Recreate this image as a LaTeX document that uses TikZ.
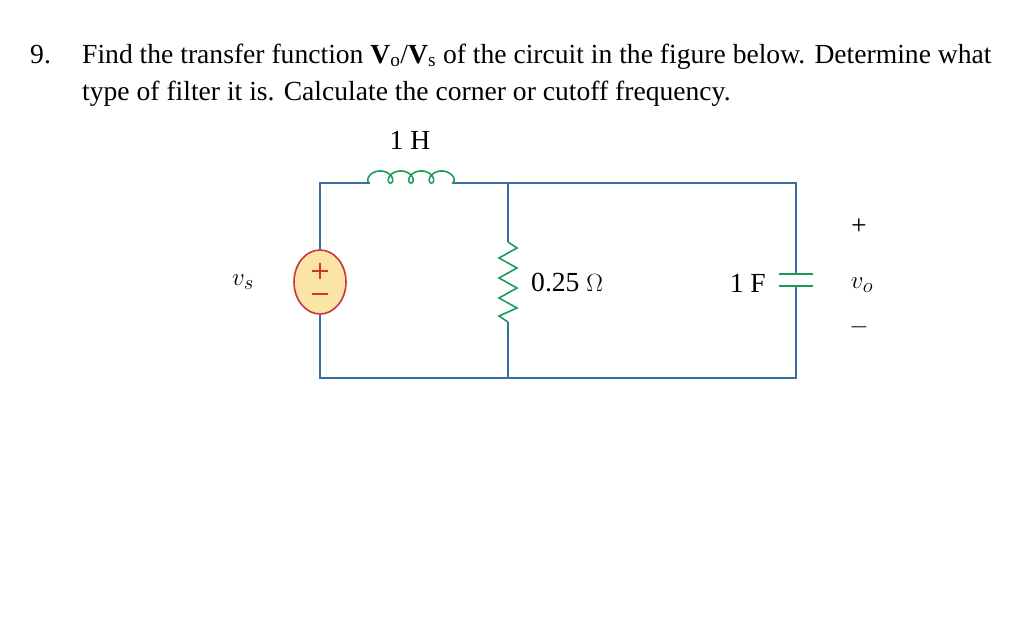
\documentclass[tikz,border=0pt]{standalone}
\usepackage{fontspec}
\setmainfont{Liberation Serif}
\usetikzlibrary{shapes.geometric}
\begin{document}
\begin{tikzpicture}[x=1pt,y=-1pt,
  wire/.style={draw=wireblue,line width=1.6pt},
  comp/.style={draw=compgreen,line width=1.6pt},
  lbl/.style={font=\fontsize{27.6}{30}\selectfont,inner sep=0pt}]
\definecolor{wireblue}{HTML}{3A6EA5}
\definecolor{compgreen}{HTML}{1E9A5A}
\definecolor{srcred}{HTML}{C8383A}
\definecolor{srcfill}{HTML}{FCE3A6}
\useasboundingbox (0,0) rectangle (1024,640);
% text
\node[lbl,anchor=base west] (n9) at (30,63) {9.};
\node[lbl,anchor=base west] (l1) at (82,63) {Find the transfer function \textbf{V}\textsubscript{o}/\textbf{V}\textsubscript{s} of the circuit in the figure below. Determine what};
\node[lbl,anchor=base west] (l2) at (82,100) {type of filter it is. Calculate the corner or cutoff frequency.};
% coordinates
\coordinate (tl) at (320,183);
\coordinate (bl) at (320,378);
\coordinate (tm) at (508,183);
\coordinate (bm) at (508,378);
\coordinate (tr) at (796,183);
\coordinate (br) at (796,378);
\coordinate (la) at (370,183);
\coordinate (lb) at (452,183);
\coordinate (ra) at (508,242);
\coordinate (rb) at (508,322);
\coordinate (ca) at (796,274);
\coordinate (cb) at (796,286);
% source
\node[draw=srcred,fill=srcfill,line width=1.6pt,ellipse,minimum width=52pt,minimum height=64pt,inner sep=0pt] (vs) at (320,282) {};
\draw[srcred,line width=1.4pt] (312,271) -- (328,271) (320,263) -- (320,279);
\draw[srcred,line width=1.4pt] (312,294) -- (328,294);
% wires
\draw[wire] (vs.north) -- (tl) -- (la);
\draw[wire] (lb) -- (tr) -- (ca);
\draw[wire] (cb) -- (br) -- (bl) -- (vs.south);
\draw[wire] (tm) -- (ra);
\draw[wire] (rb) -- (bm);
% inductor
\draw[comp,domain=pi:9*pi,samples=400,smooth] plot ({370+3.26*(\x-pi)+6.5*sin(\x r)},{183-6*(1+cos(\x r))});
% resistor
\draw[comp,line join=miter] (ra) -- (517,248) -- (499,258) -- (517,268) -- (499,278) -- (517,288) -- (499,298) -- (517,308) -- (499,316) -- (rb);
% capacitor
\draw[comp] (779,274) -- (813,274);
\draw[comp] (779,286) -- (813,286);
% labels
\node[lbl] (lH) at (410,140) {1 H};
\node[lbl,anchor=west] (lR) at (531,283) {0.25 $\Omega$};
\node[lbl,anchor=east] (lC) at (766,283) {1 F};
\node[lbl,font=\fontsize{32}{32}\selectfont] (lvs) at (243,282) {$v_s$};
\node[lbl,font=\fontsize{32}{32}\selectfont] (lvo) at (862,285) {$v_o$};
\node[lbl] (lp) at (859,227) {+};
\node[lbl] (lm) at (859,327) {$-$};
\end{tikzpicture}
\end{document}
